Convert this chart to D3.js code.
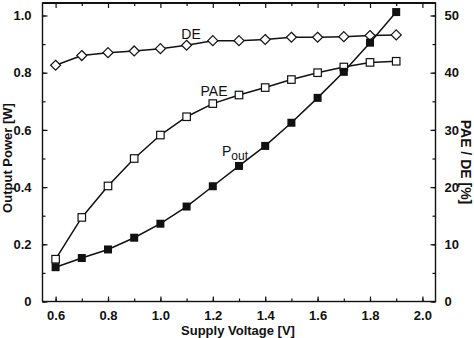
<!DOCTYPE html>
<html>
<head>
<meta charset="utf-8">
<script src="https://cdn.jsdelivr.net/npm/d3@7"></script>
<style>
  html, body { margin: 0; padding: 0; background: #fff; }
  svg text { font-family: "Liberation Sans", Arial, Helvetica, sans-serif; fill: #111; }
</style>
</head>
<body>
<svg id="chart" width="474" height="338"></svg>
<script>
// Supply voltage sweep (V)
const voltage = [0.6, 0.7, 0.8, 0.9, 1.0, 1.1, 1.2, 1.3, 1.4, 1.5, 1.6, 1.7, 1.8, 1.9];
// Output power (W), left axis
const pout = [0.12, 0.152, 0.182, 0.223, 0.272, 0.332, 0.403, 0.474, 0.544, 0.625, 0.712, 0.803, 0.905, 1.012];
// Power-added efficiency (%), right axis
const pae = [7.4, 14.7, 20.2, 25.0, 29.1, 32.3, 34.6, 36.1, 37.4, 38.8, 40.0, 41.0, 41.8, 42.0];
// Drain efficiency (%), right axis
const de = [41.3, 43.0, 43.5, 43.8, 44.2, 44.8, 45.6, 45.6, 45.8, 46.2, 46.2, 46.3, 46.5, 46.6];

const xTicks = [0.6, 0.8, 1.0, 1.2, 1.4, 1.6, 1.8, 2.0];
const leftTicks = [0, 0.2, 0.4, 0.6, 0.8, 1.0];
const rightTicks = [0, 10, 20, 30, 40, 50];

const svg = d3.select("#chart");
const L = 42.5, R = 435.5, T = 3, B = 301.5;

const x = d3.scaleLinear().domain([0.55, 2.05]).range([L, R]);
const yW = d3.scaleLinear().domain([0, 1]).range([B, 15.5]);
const yP = d3.scaleLinear().domain([0, 50]).range([B, 15.5]);

const ink = "#111";
const tickFont = g => g.selectAll(".tick text").attr("font-size", 13).attr("font-weight", "bold")
  .attr("font-family", "Liberation Sans, Arial, sans-serif").attr("fill", ink);
const tickLines = g => g.selectAll(".tick line").attr("stroke", ink).attr("stroke-width", 1.2);

// Bottom axis: inward ticks, minor every 0.1 V
const xMinor = d3.range(0.6, 2.01, 0.1).map(v => +v.toFixed(2));
const gBottomMinor = svg.append("g").attr("transform", `translate(0,${B})`);
gBottomMinor.call(d3.axisBottom(x).tickValues(xMinor).tickSize(-3).tickFormat(""));
tickLines(gBottomMinor);
const gBottom = svg.append("g").attr("transform", `translate(0,${B})`);
gBottom.call(d3.axisBottom(x).tickValues(xTicks).tickSize(-5).tickPadding(9).tickFormat(d3.format(".1f")));
tickLines(gBottom);
tickFont(gBottom);

// Top border ticks
const gTop = svg.append("g").attr("transform", `translate(0,${T})`);
gTop.call(d3.axisTop(x).tickValues(xMinor).tickSize(-3).tickFormat(""));
tickLines(gTop);
gTop.selectAll(".tick").filter(d => xTicks.some(t => Math.abs(t - d) < 1e-6)).select("line").attr("y2", 5);

// Left axis: output power
const leftMinor = d3.range(0, 1.01, 0.1).map(v => +v.toFixed(2));
const gLeftMinor = svg.append("g").attr("transform", `translate(${L},0)`);
gLeftMinor.call(d3.axisLeft(yW).tickValues(leftMinor).tickSize(-3).tickFormat(""));
tickLines(gLeftMinor);
const gLeft = svg.append("g").attr("transform", `translate(${L},0)`);
gLeft.call(d3.axisLeft(yW).tickValues(leftTicks).tickSize(-5).tickPadding(11)
  .tickFormat(d => d === 0 ? "0" : d3.format(".1f")(d)));
tickLines(gLeft);
tickFont(gLeft);

// Right axis: efficiency
const rightMinor = d3.range(0, 51, 5);
const gRightMinor = svg.append("g").attr("transform", `translate(${R},0)`);
gRightMinor.call(d3.axisRight(yP).tickValues(rightMinor).tickSize(-3).tickFormat(""));
tickLines(gRightMinor);
const gRight = svg.append("g").attr("transform", `translate(${R},0)`);
gRight.call(d3.axisRight(yP).tickValues(rightTicks).tickSize(-5).tickPadding(9));
tickLines(gRight);
tickFont(gRight);

// Remove the default domain paths and draw the frame
svg.selectAll(".domain").remove();
svg.append("rect").attr("x", L).attr("y", T).attr("width", R - L).attr("height", B - T)
  .attr("fill", "none").attr("stroke", ink).attr("stroke-width", 1.4);
svg.append("line").attr("x1", L).attr("x2", R).attr("y1", T).attr("y2", T)
  .attr("stroke", ink).attr("stroke-width", 2);

// Series
const lineW = d3.line().x((d, i) => x(voltage[i])).y(d => yW(d));
const lineP = d3.line().x((d, i) => x(voltage[i])).y(d => yP(d));

svg.append("path").datum(de).attr("d", lineP).attr("fill", "none").attr("stroke", ink).attr("stroke-width", 1.5);
svg.append("path").datum(pae).attr("d", lineP).attr("fill", "none").attr("stroke", ink).attr("stroke-width", 1.5);
svg.append("path").datum(pout).attr("d", lineW).attr("fill", "none").attr("stroke", ink).attr("stroke-width", 1.5);

// DE markers: open diamonds
const dr = 5;
svg.append("g").selectAll("path").data(de).join("path")
  .attr("d", (d, i) => {
    const cx = x(voltage[i]), cy = yP(d);
    return `M${cx},${cy - dr}L${cx + dr},${cy}L${cx},${cy + dr}L${cx - dr},${cy}Z`;
  })
  .attr("fill", "#fff").attr("stroke", ink).attr("stroke-width", 1.2);

// PAE markers: open squares
const s = 7.5;
svg.append("g").selectAll("rect").data(pae).join("rect")
  .attr("x", (d, i) => x(voltage[i]) - s / 2).attr("y", d => yP(d) - s / 2)
  .attr("width", s).attr("height", s)
  .attr("fill", "#fff").attr("stroke", ink).attr("stroke-width", 1.2);

// Pout markers: filled squares
const sf = 8;
svg.append("g").selectAll("rect").data(pout).join("rect")
  .attr("x", (d, i) => x(voltage[i]) - sf / 2).attr("y", d => yW(d) - sf / 2)
  .attr("width", sf).attr("height", sf).attr("fill", ink);

// Series labels
svg.append("text").attr("x", 191).attr("y", 39).attr("text-anchor", "middle")
  .attr("font-size", 14).text("DE");
svg.append("text").attr("x", 214).attr("y", 96).attr("text-anchor", "middle")
  .attr("font-size", 14).text("PAE");
const pl = svg.append("text").attr("x", 222).attr("y", 156).attr("font-size", 14);
pl.append("tspan").text("P");
pl.append("tspan").attr("dy", 4).attr("font-size", 12).text("out");

// Axis titles
svg.append("text").attr("x", 238).attr("y", 335).attr("text-anchor", "middle")
  .attr("font-size", 13).attr("font-weight", "bold").text("Supply Voltage [V]");
svg.append("text").attr("transform", "translate(12,158) rotate(-90)").attr("text-anchor", "middle")
  .attr("font-size", 13).attr("font-weight", "bold").text("Output Power [W]");
svg.append("text").attr("transform", "translate(461,162) rotate(90)").attr("text-anchor", "middle")
  .attr("font-size", 14).attr("font-weight", "bold").text("PAE / DE [%]");
</script>
</body>
</html>
